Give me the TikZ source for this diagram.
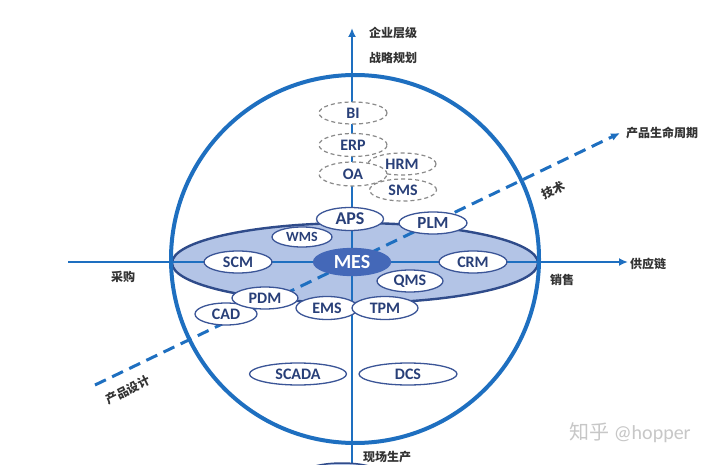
\documentclass[tikz,border=0pt]{standalone}
\usepackage{fontspec}
\setmainfont{Carlito}
\newfontfamily\cjk{Noto Sans CJK SC}
\usetikzlibrary{arrows.meta,positioning,shapes.geometric}
\definecolor{axisblue}{HTML}{1E6FC0}
\definecolor{discfill}{HTML}{B3C4E6}
\definecolor{discline}{HTML}{2F4B8A}
\definecolor{navyline}{HTML}{3B5597}
\definecolor{navytext}{HTML}{283F78}
\definecolor{mesblue}{HTML}{4468B8}
\definecolor{ghostgray}{HTML}{8A8A8A}
\tikzset{
  sysbox/.style={ellipse, draw=navyline, fill=white, line width=1.3pt, inner sep=0pt, minimum width=66pt, minimum height=22pt, text=navytext, font=\bfseries\fontsize{16}{16}\selectfont},
  mesbox/.style={sysbox, fill=mesblue, draw=mesblue, text=white, minimum width=77pt, minimum height=27pt, font=\bfseries\fontsize{20}{20}\selectfont},
  ghostbox/.style={sysbox, draw=ghostgray, dash pattern=on 4pt off 3pt, line width=1.2pt, minimum width=68pt},
  fieldbox/.style={sysbox, minimum width=97pt},
  axisarrow/.style={-{Latex[length=9pt,width=8pt]}, line width=2.6pt, draw=axisblue},
  dashedarrow/.style={axisarrow, line width=3pt, dash pattern=on 12pt off 7pt},
  tag/.style={font=\cjk\bfseries\fontsize{12}{12}\selectfont, text=black!80}
}

\begin{document}
\begin{tikzpicture}[x=1pt, y=-1pt]
\useasboundingbox (0,0) rectangle (720,465);
\fill[white] (0,0) rectangle (720,465);
% the disc and the sphere
\filldraw[fill=discfill, draw=discline, line width=2.4pt] (355,263) ellipse [x radius=183pt, y radius=40pt];
\draw[axisblue, line width=4pt] (355,259) circle [radius=184pt];
% axes
\coordinate (west) at (68,262);
\coordinate (east) at (628,262);
\coordinate (south) at (352,465);
\coordinate (north) at (352,28);
\coordinate (pdstart) at (95,385);
\coordinate (pdend) at (620,133);
\draw[axisarrow] (west) -- (east);
\draw[axisarrow] (south) -- (north);
\draw[dashedarrow] (pdstart) -- (pdend);
\filldraw[fill=discfill, draw=discline, line width=1.5pt] (342,478) ellipse [x radius=45pt, y radius=15pt];
% upper layer
\node[ghostbox] (bi) at (353,113) {BI};
\node[ghostbox, minimum height=23pt] (erp) at (353,145) {ERP};
\node[ghostbox] (hrm) at (402,164) {HRM};
\node[ghostbox, minimum height=24pt] (oa) at (353,174) {OA};
\node[ghostbox, minimum width=67pt] (sms) at (403,190) {SMS};
% plant layer
\node[sysbox, minimum width=60pt, minimum height=20pt, font=\bfseries\fontsize{14}{14}\selectfont] (wms) at (302,237) {WMS};
\node[sysbox, minimum width=67pt, minimum height=23pt, font=\bfseries\fontsize{18}{18}\selectfont] (aps) at (350,219) {APS};
\node[sysbox, minimum width=68pt, font=\bfseries\fontsize{17}{17}\selectfont] (plm) at (433,223) {PLM};
\node[sysbox, minimum width=68pt] (scm) at (238,262) {SCM};
\node[mesbox] (mes) at (352,262) {MES};
\node[sysbox, minimum width=68pt] (crm) at (473,262) {CRM};
\node[sysbox] (qms) at (410,281) {QMS};
\node[sysbox, minimum width=62pt] (cad) at (226,314) {CAD};
\node[sysbox] (pdm) at (265,298) {PDM};
\node[sysbox, minimum width=62pt, minimum height=23pt] (ems) at (327,308) {EMS};
\node[sysbox, minimum height=23pt] (tpm) at (385,308) {TPM};
% field layer
\node[fieldbox] (scada) at (298,374) {SCADA};
\node[fieldbox, minimum width=98pt] (dcs) at (408,374) {DCS};
% axis labels
\node[tag] (top1) at (393,33) {企业层级};
\node[tag, below=6pt of top1] (top2) {战略规划};
\node[tag] (supply) at (648,264) {供应链};
\node[tag] (buy) at (123,277) {采购};
\node[tag] (sell) at (562,280) {销售};
\node[tag] (field) at (387,457) {现场生产};
\node[tag] (life) at (662,133) {产品生命周期};
\node[tag, rotate=26] (tech) at (553,190) {技术};
\node[tag, rotate=26] (design) at (128,390) {产品设计};
\node[text=black!22, font=\fontsize{20}{20}\selectfont] (wm) at (630,433) {{\cjk 知乎} @hopper};
\end{tikzpicture}
\end{document}
